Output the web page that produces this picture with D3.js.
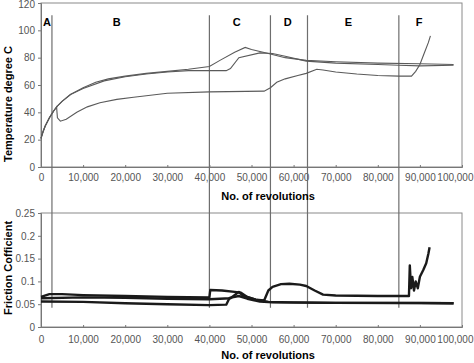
<!DOCTYPE html>
<html>
<head>
<meta charset="utf-8">
<script src="https://cdn.jsdelivr.net/npm/d3@7"></script>
<style>
  body { margin: 0; background: #fff; }
  svg { display: block; }
  .tick text { font-family: 'Liberation Sans Narrow', 'Arial Narrow', Arial, sans-serif; font-size: 10px; fill: #555; }
  .title { font-family: Arial, 'Liberation Sans', sans-serif; font-weight: bold; font-size: 11px; fill: #000; }
</style>
</head>
<body>
<div id="container"></div>
<script>
// revolutions / temperature readings, [rev, value]
const temp1 = [[0,21],[500,26],[1000,30],[2000,36],[3000,41],[4000,45],[5000,48],[7000,53],[10000,58],[13000,62],
  [16000,64.5],[20000,66.5],[25000,68.5],[30000,70],[35000,71.5],[40000,73.5],[42500,78],[46000,84],[48500,87.5],
  [50000,86],[54000,83],[58000,80],[63000,78],[70000,77],[80000,76],[90000,75.5],[98000,75]];
const temp2 = [[0,21],[500,26],[1000,30],[2000,36],[3000,41],[4000,45],[5000,48],[7000,53],[10000,57.5],[15000,63],
  [20000,66],[25000,68],[30000,69.5],[35000,70.5],[40000,70.5],[44000,70.5],[45000,72],[47000,80],[52000,83.5],
  [55000,83],[58000,81],[63000,77.5],[70000,76],[80000,75],[85000,74.5],[90000,74],[98000,74.5]];
const temp3 = [[0,21],[500,26],[1000,30],[2000,36],[3000,41],[3700,44],[3900,36],[4600,33.5],[6000,35],[8500,40],
  [11000,44],[14000,47],[18000,49.5],[22000,51],[30000,54],[40000,55],[53000,55.5],[54500,58],[56000,62],
  [58000,64.5],[61000,67],[63000,68.5],[65500,71.5],[67000,71],[70000,69.5],[75000,68],[80000,67],[85000,66.5],
  [88000,66.5],[89000,70],[90000,75],[91000,83],[92000,91],[92500,96]];

const fric1 = [[0,0.066],[2000,0.072],[5000,0.072],[10000,0.070],[20000,0.068],[30000,0.066],[40000,0.065],
  [40200,0.081],[43000,0.080],[46000,0.077],[47500,0.075],[49000,0.066],[51000,0.060],[54000,0.055],
  [60000,0.054],[70000,0.053],[80000,0.053],[90000,0.053],[98000,0.052]];
const fric2 = [[0,0.063],[10000,0.065],[20000,0.064],[30000,0.062],[40000,0.061],[45000,0.063],[47000,0.077],
  [48000,0.068],[51000,0.060],[53000,0.058],[54000,0.080],[55000,0.088],[57000,0.094],[59000,0.095],
  [61500,0.093],[63000,0.090],[65000,0.080],[67000,0.071],[70000,0.069],[80000,0.068],[87400,0.068],
  [87600,0.135],[87900,0.085],[88200,0.110],[88600,0.080],[89000,0.100],[89500,0.085],[90000,0.110],
  [90800,0.125],[91500,0.140],[92000,0.160],[92300,0.175]];
const fric3 = [[0,0.056],[10000,0.055],[20000,0.052],[30000,0.050],[40000,0.048],[44000,0.049],[44800,0.064],
  [47000,0.068],[49000,0.062],[52000,0.056],[55000,0.054],[70000,0.053],[98000,0.052]];

const xTicks = [0,10000,20000,30000,40000,50000,60000,70000,80000,90000,100000];
const tempTicks = [0,20,40,60,80,100,120];
const fricTicks = [0,0.05,0.1,0.15,0.2,0.25];

// stage boundaries and labels
const stageLines = [2600, 40000, 54500, 63300, 85000];
const stageNames = ['A','B','C','D','E','F'];
const stageLabelX = [1400, 18000, 46500, 58600, 73000, 89800];

const w = 474, h = 363;
const left = 41, right = 462;

const svg = d3.select('#container').append('svg')
  .attr('width', w).attr('height', h);

const x = d3.scaleLinear().domain([0, 100000]).range([left, right]);
const yT = d3.scaleLinear().domain([0, 120]).range([167, 3]);
const yF = d3.scaleLinear().domain([0, 0.25]).range([327, 213]);

function panel(yScale, ticks, fmt, labelDy){
  // frame
  svg.append('rect')
    .attr('x', left).attr('y', yScale.range()[1])
    .attr('width', right - left).attr('height', yScale.range()[0] - yScale.range()[1])
    .attr('fill', 'none').attr('stroke', '#8a8a8a').attr('stroke-width', 1);

  const xa = svg.append('g')
    .attr('transform', 'translate(0,' + yScale.range()[0] + ')')
    .call(d3.axisBottom(x).tickValues(xTicks).tickSize(-2).tickFormat(d3.format(',')));
  xa.select('.domain').attr('stroke', '#777');
  xa.selectAll('.tick line').attr('stroke', '#777');
  xa.selectAll('.tick text').attr('dy', labelDy);
  // last label sits right at the edge, keep it inside the window
  xa.selectAll('.tick text').filter(d => d === 100000).attr('text-anchor', 'end').attr('x', 11);

  const ya = svg.append('g')
    .attr('transform', 'translate(' + left + ',0)')
    .call(d3.axisLeft(yScale).tickValues(ticks).tickSize(3).tickPadding(3).tickFormat(fmt));
  ya.select('.domain').attr('stroke', '#777');
  ya.selectAll('.tick line').attr('stroke', '#777');
  return ya;
}

const yaT = panel(yT, tempTicks, d => d, '1.1em');
yaT.selectAll('.tick text').filter(d => d === 120).attr('dy', '0.75em').attr('y', -3);
panel(yF, fricTicks, d => d, '1.3em');

// stage lines across both plots
svg.selectAll('line.stage')
  .data(stageLines)
  .enter()
  .append('line')
  .attr('class', 'stage')
  .attr('x1', d => x(d)).attr('x2', d => x(d))
  .attr('y1', yT(111)).attr('y2', yF(0.042))
  .attr('stroke', '#6e6e6e').attr('stroke-width', 1.2);

svg.selectAll('text.stage')
  .data(stageNames)
  .enter()
  .append('text')
  .attr('class', 'title')
  .attr('font-size', '10px')
  .attr('x', (d, i) => x(stageLabelX[i]))
  .attr('y', 26)
  .attr('text-anchor', 'middle')
  .text(d => d);

const tLine = d3.line().x(d => x(d[0])).y(d => yT(d[1]));
const fLine = d3.line().x(d => x(d[0])).y(d => yF(d[1]));

[temp3, temp2, temp1].forEach(s => {
  svg.append('path').attr('d', tLine(s))
    .attr('fill', 'none').attr('stroke', '#5a5a5a').attr('stroke-width', 1.1);
});

[fric3, fric1, fric2].forEach(s => {
  svg.append('path').attr('d', fLine(s))
    .attr('fill', 'none').attr('stroke', '#1a1a1a').attr('stroke-width', 2.4)
    .attr('stroke-linejoin', 'round');
});

// axis titles
svg.append('text').attr('class', 'title')
  .attr('x', 268).attr('y', 200).attr('text-anchor', 'middle')
  .attr('font-size', '10.5px').text('No. of revolutions');
svg.append('text').attr('class', 'title')
  .attr('x', 268).attr('y', 359).attr('text-anchor', 'middle')
  .attr('font-size', '10.5px').text('No. of revolutions');

svg.append('text').attr('class', 'title')
  .attr('transform', 'translate(12,104) rotate(-90)')
  .attr('text-anchor', 'middle').text('Temperature degree C');
svg.append('text').attr('class', 'title')
  .attr('transform', 'translate(12,268) rotate(-90)')
  .attr('text-anchor', 'middle').attr('font-size', '10px').text('Friction Cofficient');
</script>
</body>
</html>
